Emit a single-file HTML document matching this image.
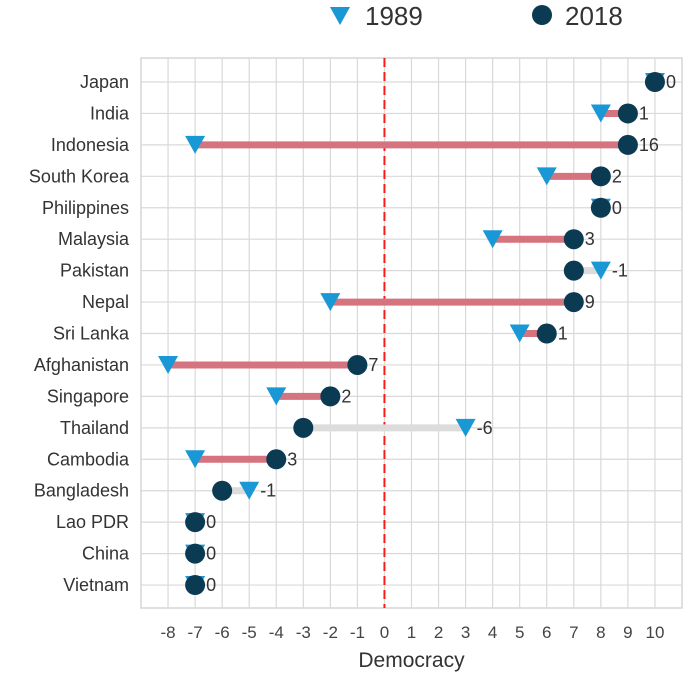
<!DOCTYPE html>
<html><head><meta charset="utf-8"><style>
body{margin:0;background:#fff;}
svg{display:block;font-family:"Liberation Sans",sans-serif;}
</style></head><body>
<svg id="chart" width="685" height="677" xmlns="http://www.w3.org/2000/svg"></svg>
<script>
const countries=["Japan","India","Indonesia","South Korea","Philippines","Malaysia","Pakistan","Nepal","Sri Lanka","Afghanistan","Singapore","Thailand","Cambodia","Bangladesh","Lao PDR","China","Vietnam"];
const values1989=[10,8,-7,6,8,4,8,-2,5,-8,-4,3,-7,-5,-7,-7,-7];
const values2018=[10,9,9,8,8,7,7,7,6,-1,-2,-3,-4,-6,-7,-7,-7];
const xTicks=[-8,-7,-6,-5,-4,-3,-2,-1,0,1,2,3,4,5,6,7,8,9,10];
const NS="http://www.w3.org/2000/svg";
const svg=document.getElementById('chart');
const L=141,R=682,T=58,B=608;
const xMin=-9,xMax=11;
const x=v=>L+(v-xMin)/(xMax-xMin)*(R-L);
const y=i=>82+i*31.44;
function mk(tag,attrs,parent){const e=document.createElementNS(NS,tag);for(const k in attrs)e.setAttribute(k,attrs[k]);(parent||svg).appendChild(e);return e;}
const grid=mk('g',{});


mk('rect',{x:L,y:T,width:R-L,height:B-T,fill:'none',stroke:'#d6d6d6','stroke-width':1.5},grid);
for(let v=xMin+1;v<xMax;v++){mk('line',{x1:x(v),x2:x(v),y1:T,y2:B,stroke:'#d9d9d9','stroke-width':1.2},grid);}
countries.forEach((c,i)=>{mk('line',{x1:L,x2:R,y1:y(i),y2:y(i),stroke:'#d9d9d9','stroke-width':1.2},grid);});
const zero=mk('line',{x1:x(0),x2:x(0),y1:T,y2:B,stroke:'#ff1a1a','stroke-width':2,'stroke-dasharray':'9,5'});


xTicks.forEach(v=>{const t=mk('text',{x:x(v),y:638,'text-anchor':'middle','font-size':17,fill:'#444'});t.textContent=v;

});
const xt=mk('text',{x:x(1),y:667,'text-anchor':'middle','font-size':21,fill:'#333'});xt.textContent='Democracy';


countries.forEach((c,i)=>{
const a=values1989[i],b=values2018[i],yy=y(i);
const t=mk('text',{x:129,y:yy+6,'text-anchor':'end','font-size':18,fill:'#333'});t.textContent=c;


const ln=mk('line',{x1:x(a),x2:x(b),y1:yy,y2:yy,stroke:b>=a?'#d5737f':'#dcdcdc','stroke-width':7});


const xa=x(a);
const tri=mk('polygon',{points:`${xa-10},${yy-9} ${xa+10},${yy-9} ${xa},${yy+9}`,fill:'#1a98d5'});


const cir=mk('circle',{cx:x(b),cy:yy,r:10,fill:'#0b3a53'});


const d=mk('text',{x:x(Math.max(a,b))+11,y:yy+6,'font-size':18,fill:'#333'});d.textContent=b-a;


});
const lg=mk('g',{});


mk('polygon',{points:'330,7 350,7 340,25',fill:'#1a98d5'},lg);
const l1=mk('text',{x:365,y:25,'font-size':26,fill:'#333'},lg);l1.textContent='1989';
mk('circle',{cx:542,cy:15,r:10,fill:'#0b3a53'},lg);
const l2=mk('text',{x:565,y:25,'font-size':26,fill:'#333'},lg);l2.textContent='2018';
</script>
</body></html>
